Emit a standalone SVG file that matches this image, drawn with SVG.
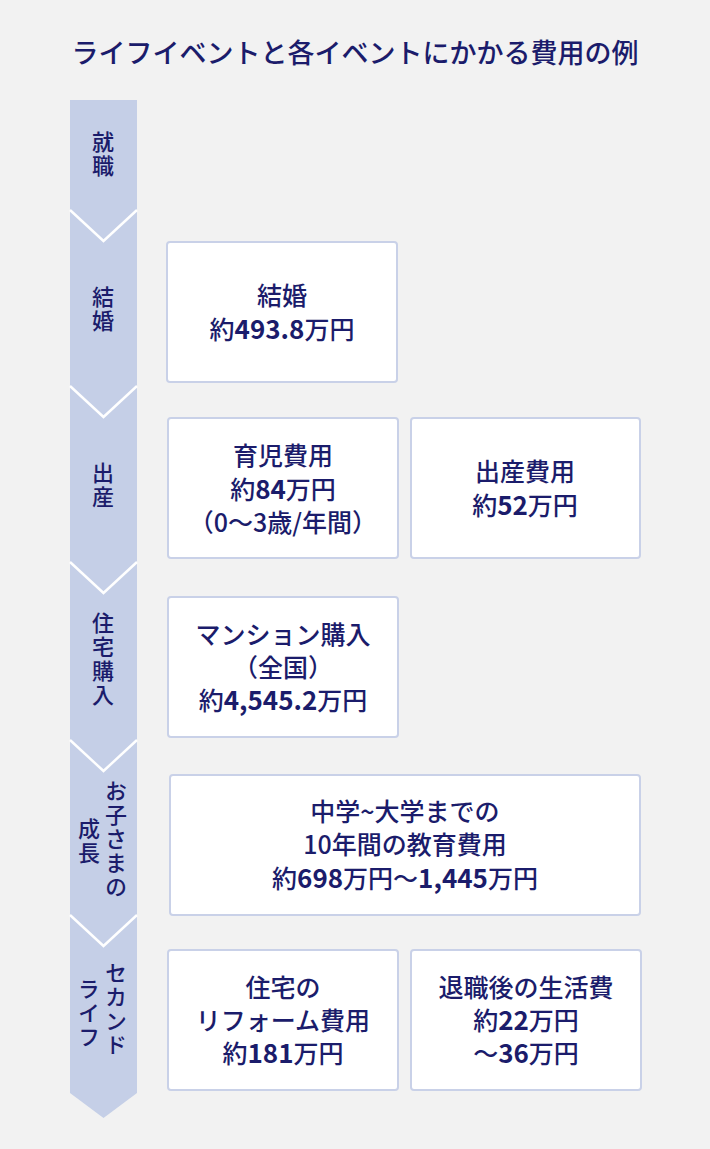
<svg xmlns="http://www.w3.org/2000/svg" width="710" height="1149" viewBox="0 0 710 1149">
<style>
text{font-family:"Noto Sans CJK JP","Noto Sans",sans-serif;fill:#1b1c6b;text-anchor:middle}
.t{font-size:27px;font-weight:500}
.s{font-size:25px;font-weight:500}
.b{font-weight:bold;font-size:26px}
.v{font-size:22px;font-weight:500;writing-mode:vertical-rl;text-anchor:start;letter-spacing:2px}
.box{fill:#fff;stroke:#c9d1e8;stroke-width:2}
.sep{fill:none;stroke:#fff;stroke-width:2.5}
</style>
<rect width="710" height="1149" fill="#f2f2f2"/>
<text class="t" x="355" y="63">ライフイベントと各イベントにかかる費用の例</text>
<g id="timeline">
<path d="M70 100H137V1093L103.5 1118L70 1093Z" fill="#c5cfe7"/>
</g>
<g id="connectors">
<path class="sep" d="M70 210L103.5 241L137 210"/>
<path class="sep" d="M70 386L103.5 417L137 386"/>
<path class="sep" d="M70 562L103.5 593L137 562"/>
<path class="sep" d="M70 740L103.5 771L137 740"/>
<path class="sep" d="M70 915L103.5 946L137 915"/>
</g>
<g id="labels">
<text class="v" x="103" y="131">就職</text>
<text class="v" x="103" y="286">結婚</text>
<text class="v" x="103" y="462">出産</text>
<text class="v" x="103" y="612">住宅購入</text>
<text class="v" x="116" y="780">お子さまの</text>
<text class="v" x="89" y="818">成長</text>
<text class="v" x="116" y="962">セカンド</text>
<text class="v" x="89" y="978">ライフ</text>
</g>
<g id="n1"><rect class="box" x="167" y="242" width="230" height="140" rx="3"/>
<text class="s" x="282" y="305">結婚</text><text class="s" x="282" y="339">約<tspan class="b">493.8</tspan>万円</text></g>
<g id="n2"><rect class="box" x="168" y="418" width="230" height="140" rx="3"/>
<text class="s" x="283" y="465">育児費用</text><text class="s" x="283" y="499">約<tspan class="b">84</tspan>万円</text><text class="s" x="283" y="532">（0〜3歳/年間）</text></g>
<g id="n3"><rect class="box" x="411" y="418" width="229" height="140" rx="3"/>
<text class="s" x="525" y="481">出産費用</text><text class="s" x="525" y="515">約<tspan class="b">52</tspan>万円</text></g>
<g id="n4"><rect class="box" x="168" y="597" width="230" height="140" rx="3"/>
<text class="s" x="283" y="644">マンション購入</text><text class="s" x="283" y="677">（全国）</text><text class="s" x="283" y="710">約<tspan class="b">4,545.2</tspan>万円</text></g>
<g id="n5"><rect class="box" x="170" y="775" width="470" height="140" rx="3"/>
<text class="s" x="405" y="821">中学~大学までの</text><text class="s" x="405" y="854">10年間の教育費用</text><text class="s" x="405" y="888">約<tspan class="b">698</tspan>万円〜<tspan class="b">1,445</tspan>万円</text></g>
<g id="n6"><rect class="box" x="168" y="950" width="230" height="140" rx="3"/>
<text class="s" x="283" y="997">住宅の</text><text class="s" x="283" y="1030">リフォーム費用</text><text class="s" x="283" y="1063">約<tspan class="b">181</tspan>万円</text></g>
<g id="n7"><rect class="box" x="411" y="950" width="230" height="140" rx="3"/>
<text class="s" x="526" y="997">退職後の生活費</text><text class="s" x="526" y="1030">約<tspan class="b">22</tspan>万円</text><text class="s" x="526" y="1063">〜<tspan class="b">36</tspan>万円</text></g>
</svg>
